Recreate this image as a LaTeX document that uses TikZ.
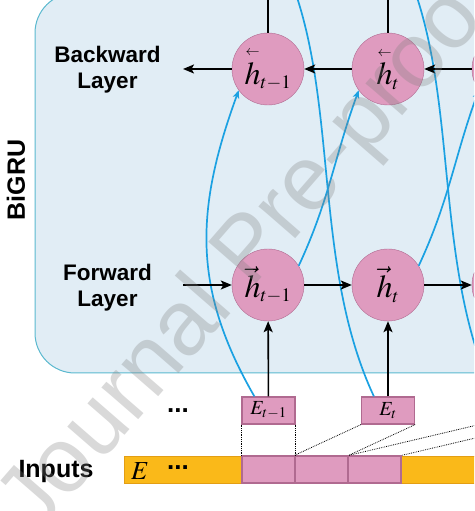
\documentclass[tikz,border=0pt]{standalone}
\usepackage{amsmath}
\usepackage{mathptmx}
\usepackage[no-math]{fontspec}
\setmainfont{Liberation Sans}
\usetikzlibrary{arrows.meta}
\DeclareMathSizes{32}{32}{19}{14}

\definecolor{panel}{HTML}{E1EDF5}
\definecolor{panelrand}{HTML}{5BB9CF}
\definecolor{rosa}{HTML}{DF9BBF}
\definecolor{rosarand}{HTML}{B06A90}
\definecolor{balken}{HTML}{FAB919}
\definecolor{balkenrand}{HTML}{E39E14}
\definecolor{blau}{HTML}{1BA1E2}

\newcommand{\hl}{\overset{\scriptscriptstyle\leftarrow}{h}}

\tikzset{
  zelle/.style={circle, draw=rosarand, fill=rosa, minimum size=72pt, inner sep=0pt,
    font=\fontsize{32}{34}\selectfont},
  ebox/.style={rectangle, draw=rosarand, fill=rosa, line width=1.2pt, minimum width=53pt,
    minimum height=27pt, inner sep=0pt, font=\fontsize{20}{22}\selectfont},
  seg/.style={rectangle, draw=rosarand, fill=rosa, line width=1.2pt, minimum width=53pt,
    minimum height=27pt, inner sep=0pt},
  pfeil/.style={line width=1.6pt, -{Stealth[length=11pt,width=9pt,inset=2.5pt]}},
  bogen/.style={blau, line width=1.7pt},
  bspitze/.style={-{Stealth[length=8pt,width=6.5pt,inset=2pt]}},
  punkte/.style={densely dotted, line width=0.8pt},
  titel/.style={font=\fontsize{22.5}{26}\selectfont\bfseries, align=center},
  gross/.style={font=\fontsize{25}{25}\selectfont\bfseries},
}

\begin{document}
\begin{tikzpicture}[x=1pt,y=1pt]
  \useasboundingbox (0,0) rectangle (474,511);
  \clip (0,0) rectangle (474,511);

  % Hintergrund BiGRU
  \draw[panelrand, fill=panel, line width=1pt, rounded corners=40pt] (35,138) rectangle (600,518);

  % Zellen
  \node[zelle] (hb1) at (268,442) {$\hl_{t-1}$};
  \node[zelle] (hb2) at (388,442) {$\hl_{t}$};
  \node[zelle] (hb3) at (508,442) {};
  \node[zelle] (hf1) at (268,226) {$\vec{h}_{t-1}$};
  \node[zelle] (hf2) at (388,226) {$\vec{h}_{t}$};
  \node[zelle] (hf3) at (508,226) {};

  % Eingaben
  \node[ebox] (E1) at (268.5,100.5) {$E_{t-1}$};
  \node[ebox] (E2) at (388,100.5) {$E_{t}$};
  \coordinate (E3o) at (494.5,114);
  \coordinate (E3l) at (481.5,87);
  \coordinate (E3r) at (534.5,87);

  % Balken
  \node[draw=balkenrand, fill=balken, line width=0.8pt, minimum width=476pt, minimum height=27pt,
    inner sep=0pt, anchor=west] (bar) at (124,41.5) {};
  \node[seg] (s1) at (268.5,41.5) {};
  \node[seg] (s2) at (321.5,41.5) {};
  \node[seg] (s3) at (374.5,41.5) {};

  % Beschriftung
  \node[titel] (lb) at (107.5,441) {Backward\\Layer};
  \node[titel] (lf) at (107.5,223) {Forward\\Layer};
  \node[gross, rotate=90] (bigru) at (16,331) {BiGRU};
  \node[gross, anchor=base] (inp) at (56,33) {Inputs};
  \node[font=\fontsize{26}{26}\selectfont, anchor=base] (e) at (140,31) {$E$};
  \node[font=\fontsize{26}{26}\selectfont\bfseries, anchor=base] (d1) at (178,98.5) {...};
  \node[font=\fontsize{26}{26}\selectfont\bfseries, anchor=base] (d2) at (178,41.5) {...};

  % blaue Verbindungen
  \coordinate (c2) at (285,545);
  \coordinate (c3) at (405,545);
  \draw[bogen, bspitze] (E1.135) to[out=120, in=250, looseness=1.05] (hb1.216);
  \draw[bogen, bspitze] (hf1.32) to[out=65, in=250] (hb2.216);
  \draw[bogen, bspitze] (hf2.32) to[out=65, in=250] (hb3.216);
  \draw[bogen] (E2.135) to[out=115, in=-66, out distance=150pt, in distance=137pt] (c2);
  \draw[bogen] (E3o) to[out=115, in=-66, out distance=150pt, in distance=137pt] (c3);

  % Pfeile
  \coordinate (lo) at (183,442);
  \coordinate (li) at (183,226);
  \coordinate (o1) at (268,520);
  \coordinate (o2) at (388,520);
  \draw[line width=1.6pt] (hb1) -- (o1);
  \draw[line width=1.6pt] (hb2) -- (o2);
  \draw[pfeil] (hb3) -- (hb2);
  \draw[pfeil] (hb2) -- (hb1);
  \draw[pfeil] (hb1) -- (lo);
  \draw[pfeil] (li) -- (hf1);
  \draw[pfeil] (hf1) -- (hf2);
  \draw[pfeil] (hf2) -- (hf3);
  \draw[pfeil] (E1) -- (hf1);
  \draw[pfeil] (E2) -- (hf2);

  % gepunktete Linien
  \draw[punkte] (E1.south west) -- (s1.north west);
  \draw[punkte] (E1.south east) -- (s1.north east);
  \draw[punkte] (E2.south west) -- (s2.north west);
  \draw[punkte] (E2.south east) -- (s2.north east);
  \draw[punkte] (E3l) -- (s2.north east);
  \draw[punkte] (E3r) -- (s3.north east);

  % Wasserzeichen
  \node[rotate=49, text=gray, text opacity=0.3, font=\fontsize{92}{92}\selectfont] (wm) at (252,258) {Journal Pre-proof};
\end{tikzpicture}
\end{document}
